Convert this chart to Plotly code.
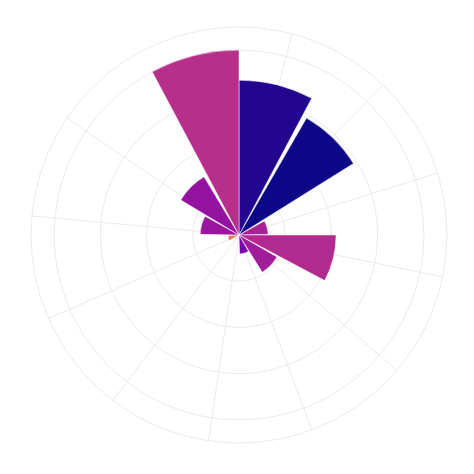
import plotly.graph_objects as go

# bar centre angles (deg, clockwise from north), lengths and colour values
directions = [14, 44, 75, 104, 134, 164, 194, 224, 254, 285, 315, 346]
magnitudes = [33.5, 29.2, 6.3, 21.0, 9.5, 4.1, 0, 0, 2.4, 8.4, 14.7, 40.0]
shades = [0.04, 0.0, 0.37, 0.40, 0.35, 0.23, 0.5, 0.5, 0.66, 0.33, 0.31, 0.42]

GRID = "#ebebeb"

fig = go.Figure()

fig.add_trace(go.Barpolar(
    r=magnitudes, theta=directions, width=28,
    marker=dict(color=shades, colorscale="Plasma", cmin=0, cmax=1,
                line=dict(color="white", width=0.5)),
    hoverinfo="r+theta"
))

fig.update_layout(
    template="plotly_white", width=474, height=474,
    margin=dict(l=23, r=35, t=19, b=39),
    showlegend=False,
    polar=dict(
        bgcolor="white",
        radialaxis=dict(range=[0, 45], dtick=10, showticklabels=False, ticks="",
                        showline=False, gridcolor=GRID),
        angularaxis=dict(direction="clockwise", rotation=90, tickmode="linear",
                         tick0=14.8, dtick=28.94, showticklabels=False, ticks="",
                         showline=True, linecolor=GRID, gridcolor=GRID)
    )
)

fig.write_html("out.html")
